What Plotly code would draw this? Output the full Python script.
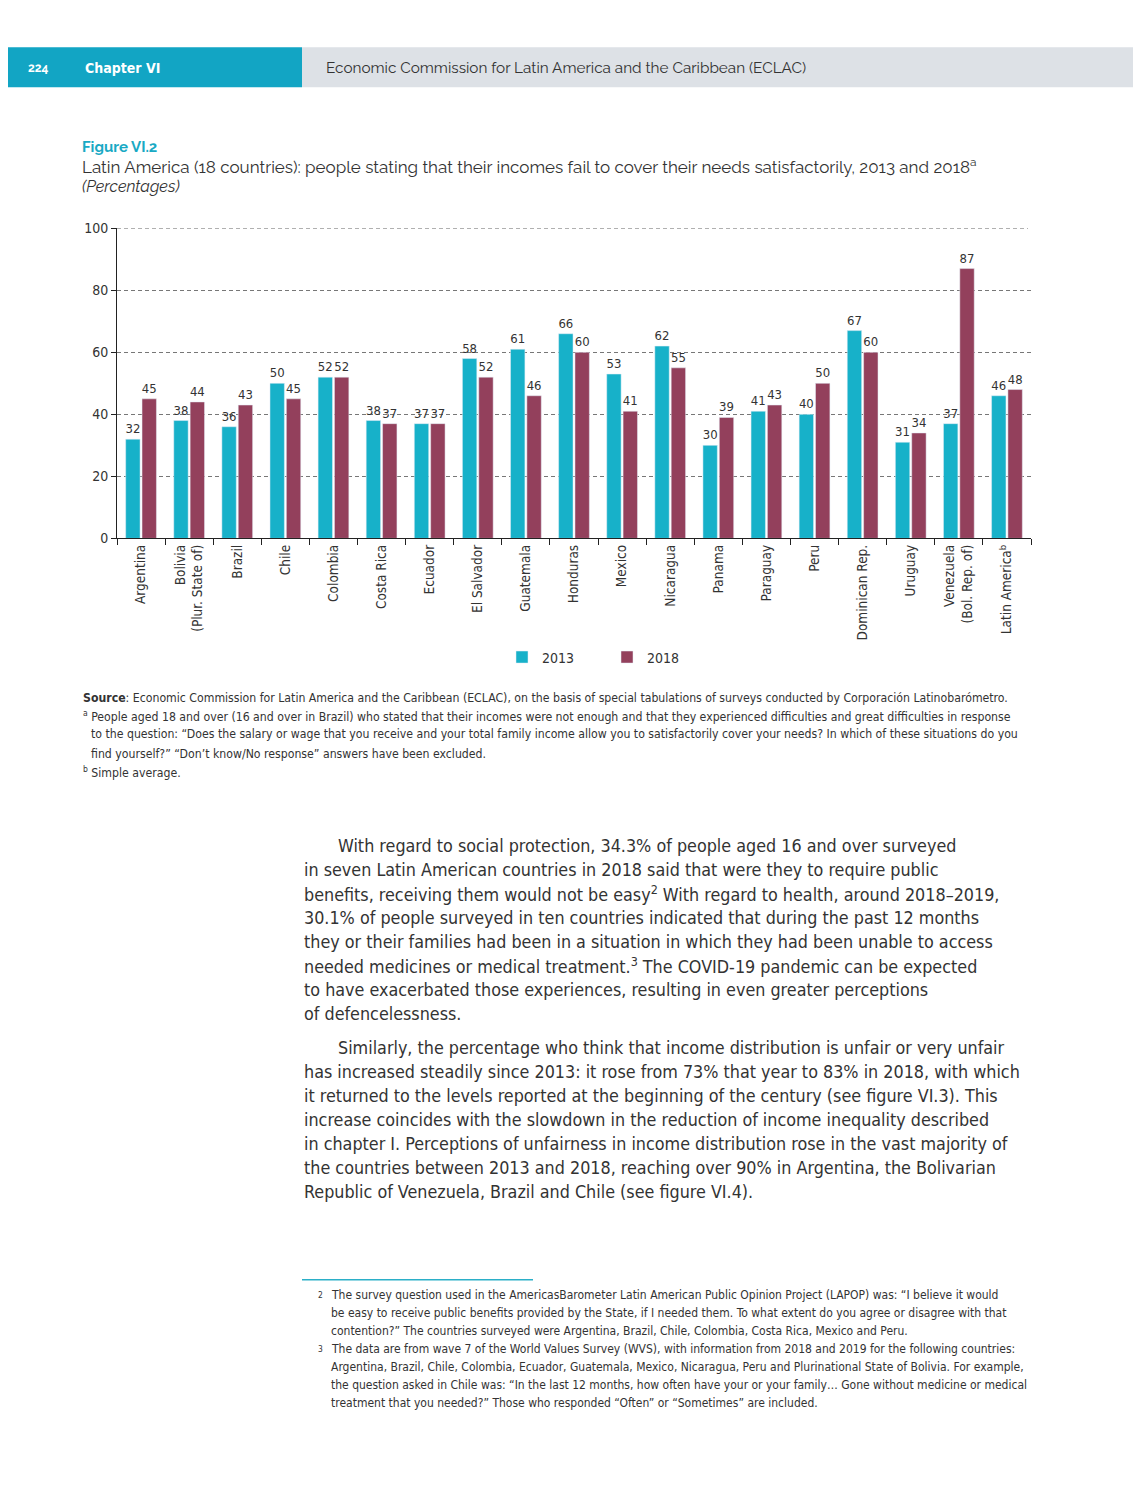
import plotly.graph_objects as go

# Page is 1141x1494. The html page puts the figure 8px from the left and ~16px from the top
# of a ~1511px tall document, which is then shown at 1494px height; map page coordinates
# onto figure coordinates accordingly.
PW, PH = 1141, 1494
MX, TOP = 8, 16
DOC_H = 1511
S = PH / DOC_H
W, H = PW - 2 * MX, DOC_H - 2 * TOP

countries = ["Argentina", "Bolivia<br>(Plur. State of)", "Brazil", "Chile", "Colombia",
             "Costa Rica", "Ecuador", "El Salvador", "Guatemala", "Honduras", "Mexico",
             "Nicaragua", "Panama", "Paraguay", "Peru", "Dominican Rep.", "Uruguay",
             "Venezuela<br>(Bol. Rep. of)", "Latin America<sup>b</sup>"]
v2013 = [32, 38, 36, 50, 52, 38, 37, 58, 61, 66, 53, 62, 30, 41, 40, 67, 31, 37, 46]
v2018 = [45, 44, 43, 45, 52, 37, 37, 52, 46, 60, 41, 55, 39, 43, 50, 60, 34, 87, 48]
yticks = [0, 20, 40, 60, 80, 100]

TEAL = "#17B1C9"
MAROON = "#93405C"
NARROW = "Liberation Sans Narrow, Arial Narrow, DejaVu Sans Condensed, sans-serif"
SANS = "Raleway, Lato, Open Sans, sans-serif"


def px(x):
    return (x - MX) / W


def py(y):
    return 1 - (y / S - TOP) / H


fig = go.Figure()
fig.add_trace(go.Bar(x=countries, y=v2013, name="2013", marker_color=TEAL,
                     text=[str(v) for v in v2013], textposition="outside", constraintext="none",
                     textfont=dict(family=NARROW, size=13, color="#333"), cliponaxis=False))
fig.add_trace(go.Bar(x=countries, y=v2018, name="2018", marker_color=MAROON,
                     text=[str(v) for v in v2018], textposition="outside", constraintext="none",
                     textfont=dict(family=NARROW, size=13, color="#333"), cliponaxis=False))

fig.update_layout(
    width=W, height=H, margin=dict(l=0, r=0, t=0, b=0),
    paper_bgcolor="white", plot_bgcolor="white",
    barmode="group", bargap=0.32, bargroupgap=0.12,
    font=dict(family=NARROW, color="#333"),
    showlegend=True,
    legend=dict(orientation="h", x=px(502), y=py(657), xanchor="left", yanchor="middle",
                entrywidth=60, entrywidthmode="pixels", itemwidth=30,
                font=dict(family=NARROW, size=14, color="#333")),
    xaxis=dict(domain=[px(117), px(1031)], showline=True, linecolor="#222", linewidth=1,
               ticks="outside", tickson="boundaries", ticklen=6, tickcolor="#222",
               tickangle=-90, tickfont=dict(family=NARROW, size=13.5, color="#333")),
    yaxis=dict(domain=[py(538), py(228)], range=[0, 100], tickvals=yticks,
               showline=True, linecolor="#222", linewidth=1, ticks="outside", ticklen=5,
               tickcolor="#222", showgrid=True, gridcolor="#777", griddash="4px,3px", gridwidth=1,
               zeroline=False, tickfont=dict(family=NARROW, size=14, color="#333")),
)

shapes = [
    dict(type="rect", xref="paper", yref="paper", x0=px(0), x1=px(302), y0=py(87), y1=py(47),
         fillcolor="#12A5C4", line_width=0, layer="below"),
    dict(type="rect", xref="paper", yref="paper", x0=px(302), x1=px(1141), y0=py(87), y1=py(47),
         fillcolor="#DDE1E6", line_width=0, layer="below"),
    # dashed gridline at 100 (top of the axis)
    dict(type="line", xref="paper", yref="y", x0=px(117), x1=px(1028), y0=100, y1=100,
         line=dict(color="#777", width=1, dash="4px,3px")),
    dict(type="line", xref="paper", yref="paper", x0=px(302), x1=px(533), y0=py(1279), y1=py(1279),
         line=dict(color="#2BAFC8", width=1.5)),
]
fig.update_layout(shapes=shapes)

ann = []


def text(x, y, s, size, family, color="#333", xanchor="left", **kw):
    ann.append(dict(xref="paper", yref="paper", x=px(x), y=py(y), text=s, showarrow=False,
                    xanchor=xanchor, yanchor="middle", align="left",
                    font=dict(size=size, family=family, color=color), **kw))


text(26, 68, "<b>224</b>", 12, SANS, "white")
text(83, 68, "<b>Chapter VI</b>", 14, NARROW, "white")
text(324, 68, "Economic Commission for Latin America and the Caribbean (ECLAC)", 15.3, SANS, "#333")

text(80, 147, "<b>Figure VI.2</b>", 15, SANS, "#19A9C4")
text(80, 166, "Latin America (18 countries): people stating that their incomes fail to cover their needs satisfactorily, 2013 and 2018<sup>a</sup>", 17, SANS, "#333")
text(80, 186, "<i>(Percentages)</i>", 16, SANS, "#333")

notes = [
    (81, 698, "<b>Source</b>: Economic Commission for Latin America and the Caribbean (ECLAC), on the basis of special tabulations of surveys conducted by Corporación Latinobarómetro."),
    (81, 716, "<sup>a</sup> People aged 18 and over (16 and over in Brazil) who stated that their incomes were not enough and that they experienced difficulties and great difficulties in response"),
    (89, 734, "to the question: \u201cDoes the salary or wage that you receive and your total family income allow you to satisfactorily cover your needs? In which of these situations do you"),
    (89, 753, "find yourself?\u201d \u201cDon\u2019t know/No response\u201d answers have been excluded."),
    (81, 771, "<sup>b</sup> Simple average."),
]
for x, y, s in notes:
    text(x, y, s, 12.2, NARROW, "#333")

body = [
    (336, 845, "With regard to social protection, 34.3% of people aged 16 and over surveyed"),
    (302, 869, "in seven Latin American countries in 2018 said that were they to require public"),
    (302, 893, "benefits, receiving them would not be easy<sup>2</sup> With regard to health, around 2018\u20132019,"),
    (302, 917, "30.1% of people surveyed in ten countries indicated that during the past 12 months"),
    (302, 941, "they or their families had been in a situation in which they had been unable to access"),
    (302, 965, "needed medicines or medical treatment.<sup>3</sup> The COVID-19 pandemic can be expected"),
    (302, 989, "to have exacerbated those experiences, resulting in even greater perceptions"),
    (302, 1013, "of defencelessness."),
    (336, 1047, "Similarly, the percentage who think that income distribution is unfair or very unfair"),
    (302, 1071, "has increased steadily since 2013: it rose from 73% that year to 83% in 2018, with which"),
    (302, 1095, "it returned to the levels reported at the beginning of the century (see figure VI.3). This"),
    (302, 1119, "increase coincides with the slowdown in the reduction of income inequality described"),
    (302, 1143, "in chapter I. Perceptions of unfairness in income distribution rose in the vast majority of"),
    (302, 1167, "the countries between 2013 and 2018, reaching over 90% in Argentina, the Bolivarian"),
    (302, 1191, "Republic of Venezuela, Brazil and Chile (see figure VI.4)."),
]
for x, y, s in body:
    text(x, y, s, 17.8, NARROW, "#333")

fn = [
    (316, 1294, "<sup>2</sup>"),
    (329, 1294, "The survey question used in the AmericasBarometer Latin American Public Opinion Project (LAPOP) was: \u201cI believe it would"),
    (329, 1312, "be easy to receive public benefits provided by the State, if I needed them. To what extent do you agree or disagree with that"),
    (329, 1330, "contention?\u201d The countries surveyed were Argentina, Brazil, Chile, Colombia, Costa Rica, Mexico and Peru."),
    (316, 1348, "<sup>3</sup>"),
    (329, 1348, "The data are from wave 7 of the World Values Survey (WVS), with information from 2018 and 2019 for the following countries:"),
    (329, 1366, "Argentina, Brazil, Chile, Colombia, Ecuador, Guatemala, Mexico, Nicaragua, Peru and Plurinational State of Bolivia. For example,"),
    (329, 1384, "the question asked in Chile was: \u201cIn the last 12 months, how often have your or your family\u2026 Gone without medicine or medical"),
    (329, 1402, "treatment that you needed?\u201d Those who responded \u201cOften\u201d or \u201cSometimes\u201d are included."),
]
for x, y, s in fn:
    text(x, y, s, 12, NARROW, "#333")

fig.update_layout(annotations=ann)
fig.write_html("out.html")
